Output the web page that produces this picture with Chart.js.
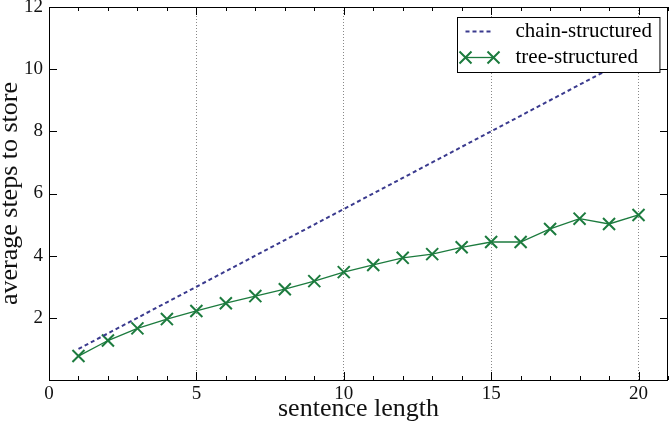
<!DOCTYPE html>
<html><head><meta charset="utf-8">
<script src="https://cdn.jsdelivr.net/npm/chart.js@4.4.1/dist/chart.umd.min.js"></script>
<style>html,body{margin:0;padding:0;background:#fff}#wrap{width:670px;height:423px}</style>
</head><body><div id="wrap"><canvas id="c" width="670" height="423"></canvas></div>
<script>
const sentenceLengths = [1,2,3,4,5,6,7,8,9,10,11,12,13,14,15,16,17,18,19,20];
const chainSteps = [1,1.5,2,2.5,3,3.5,4,4.5,5,5.5,6,6.5,7,7.5,8,8.5,9,9.5,10,10.5];
const treeSteps = [0.77,1.27,1.66,1.96,2.22,2.47,2.70,2.92,3.18,3.47,3.70,3.93,4.05,4.27,4.44,4.44,4.86,5.19,5.02,5.31];
const xTickValues = [0,5,10,15,20];
const yTickValues = [2,4,6,8,10,12];
const seriesLabels = ['chain-structured','tree-structured'];
const xTitle = 'sentence length';
const yTitle = 'average steps to store';

const SERIF = '"Liberation Serif", "DejaVu Serif", serif';
const chainColor = '#3a3a8e';
const treeColor = '#1c7b3e';

const framePlugin = {
  id: 'frame',
  beforeDatasetsDraw(chart) {
    const {ctx, chartArea: a, scales: {x, y}} = chart;
    ctx.save();
    ctx.strokeStyle = '#000';
    ctx.lineWidth = 1;
    ctx.setLineDash([]);
    const line = (x1, y1, x2, y2) => { ctx.beginPath(); ctx.moveTo(x1, y1); ctx.lineTo(x2, y2); ctx.stroke(); };
    for (let v = Math.ceil(x.min); v <= x.max; v++) {
      const px = Math.round(x.getPixelForValue(v)) + 0.5;
      const len = xTickValues.includes(v) ? 8 : 4;
      line(px, a.bottom, px, a.bottom - len);
      line(px, a.top, px, a.top + len);
    }
    for (const v of yTickValues) {
      const py = Math.round(y.getPixelForValue(v)) + 0.5;
      line(a.left, py, a.left + 8, py);
      line(a.right, py, a.right - 8, py);
    }
    ctx.strokeRect(Math.round(a.left) + 0.5, Math.round(a.top) + 0.5, Math.round(a.right - a.left) - 1, Math.round(a.bottom - a.top));
    ctx.restore();
  }
};

const legendPlugin = {
  id: 'boxLegend',
  afterDraw(chart) {
    const {ctx, chartArea: a} = chart;
    const ds = chart.data.datasets;
    ctx.save();
    ctx.font = '21px ' + SERIF;
    const textW = Math.max(...ds.map(d => ctx.measureText(d.label).width));
    const padX = 8, sampleW = 28, gap = 22, rowH = 26;
    const w = padX + sampleW + gap + textW + padX;
    const h = ds.length * rowH + 3;
    const x0 = Math.round(a.right - 9 - w) + 0.5;
    const y0 = Math.round(a.top + 10) + 0.5;
    ctx.fillStyle = '#fff';
    ctx.fillRect(x0, y0, w, h);
    ctx.strokeStyle = '#000';
    ctx.lineWidth = 1;
    ctx.setLineDash([]);
    ctx.strokeRect(x0, y0, w, h);
    ds.forEach((d, i) => {
      const cy = y0 + 14 + i * rowH;
      const sx = x0 + padX;
      ctx.save();
      ctx.strokeStyle = d.borderColor;
      ctx.lineWidth = d.borderWidth;
      ctx.setLineDash(d.borderDash || []);
      ctx.beginPath(); ctx.moveTo(sx, cy); ctx.lineTo(sx + sampleW, cy); ctx.stroke();
      ctx.restore();
      if (d.pointRadius > 0) {
        const opts = {pointStyle: d.pointStyle, radius: d.pointRadius, borderWidth: d.pointBorderWidth, rotation: 0};
        ctx.save();
        ctx.strokeStyle = d.borderColor; ctx.fillStyle = d.borderColor; ctx.lineWidth = d.pointBorderWidth;
        Chart.helpers.drawPoint(ctx, opts, sx, cy);
        Chart.helpers.drawPoint(ctx, opts, sx + sampleW, cy);
        ctx.restore();
      }
      ctx.fillStyle = '#000';
      ctx.textBaseline = 'middle';
      ctx.textAlign = 'left';
      ctx.fillText(d.label, sx + sampleW + gap, cy);
    });
    ctx.restore();
  }
};

new Chart(document.getElementById('c'), {
  type: 'line',
  data: {
    datasets: [
      {
        label: seriesLabels[0],
        data: sentenceLengths.map((v, i) => ({x: v, y: chainSteps[i]})),
        borderColor: chainColor,
        backgroundColor: chainColor,
        borderWidth: 2,
        borderDash: [4, 3],
        pointRadius: 0,
        fill: false,
        tension: 0
      },
      {
        label: seriesLabels[1],
        data: sentenceLengths.map((v, i) => ({x: v, y: treeSteps[i]})),
        borderColor: treeColor,
        backgroundColor: treeColor,
        borderWidth: 1.3,
        pointStyle: 'crossRot',
        pointRadius: 8.5,
        pointBorderWidth: 2,
        pointBorderColor: treeColor,
        fill: false,
        tension: 0
      }
    ]
  },
  options: {
    responsive: false,
    animation: false,
    devicePixelRatio: 1,
    layout: {autoPadding: false, padding: {top: 7, right: 2, left: 0, bottom: 0}},
    plugins: {legend: {display: false}, tooltip: {enabled: false}},
    scales: {
      x: {
        type: 'linear', min: 0, max: 21,
        afterBuildTicks: s => { s.ticks = xTickValues.map(v => ({value: v})); },
        afterFit: s => { s.height = 43; s.paddingLeft = 0; s.paddingRight = 0; },
        ticks: {font: {family: SERIF, size: 19}, color: '#111', padding: 3, maxRotation: 0, autoSkip: false},
        grid: {display: true, drawTicks: false, color: '#888', lineWidth: 1},
        border: {display: false, dash: [1, 2]},
        title: {display: true, text: xTitle, font: {family: SERIF, size: 26, lineHeight: 1.1}, color: '#111', padding: 0}
      },
      y: {
        type: 'linear', min: 0, max: 12,
        afterBuildTicks: s => { s.ticks = yTickValues.map(v => ({value: v})); },
        afterFit: s => { s.width = 49; s.paddingTop = 0; s.paddingBottom = 0; },
        ticks: {font: {family: SERIF, size: 19}, color: '#111', padding: 6},
        grid: {display: false, drawTicks: false},
        border: {display: false},
        title: {display: true, text: yTitle, font: {family: SERIF, size: 26, lineHeight: 0.8}, color: '#111', padding: 0}
      }
    }
  },
  plugins: [framePlugin, legendPlugin]
});
</script>
</body></html>
